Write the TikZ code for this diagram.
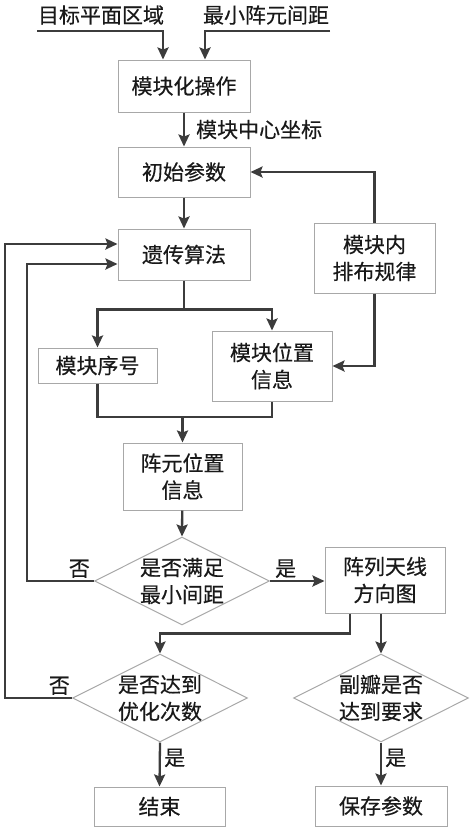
\documentclass[tikz,border=0pt]{standalone}
\usepackage{fontspec}
\setmainfont[FakeBold=0.4]{Noto Sans CJK SC}
\usetikzlibrary{shapes.geometric,arrows.meta,positioning}
\definecolor{linegray}{HTML}{3C3C3C}
\definecolor{boxgray}{HTML}{A8A8A8}

\begin{document}
\begin{tikzpicture}[x=1pt,y=-1pt,font=\fontsize{21}{27}\selectfont,text=black!90,
  blk/.style={draw=boxgray,line width=1pt,align=center,inner sep=0},
  dia/.style={shape=diamond,draw=boxgray,line width=1pt,inner sep=0,minimum width=175pt,minimum height=88pt},
  lab/.style={inner sep=0},
  ln/.style={draw=linegray,line width=2.3pt},
  arr/.style={ln,-{Stealth[length=12pt,width=11pt,inset=2pt]}}]
\useasboundingbox (0,0) rectangle (474,831);
\node[lab] (in1) at (101,15) {目标平面区域};
\node[lab] (in2) at (266,15) {最小阵元间距};
\coordinate (u1) at (37,31);
\coordinate (u2) at (330,31);
\node[blk,minimum width=132pt,minimum height=52pt] (mod) at (184,86) {模块化操作};
\node[blk,minimum width=132pt,minimum height=50pt] (init) at (184,172) {初始参数};
\node[blk,minimum width=132pt,minimum height=51pt] (ga) at (184,254.5) {遗传算法};
\node[blk,minimum width=121pt,minimum height=70pt] (rule) at (374.5,258) {模块内\\排布规律};
\node[blk,minimum width=119pt,minimum height=35pt] (idx) at (97.5,365.5) {模块序号};
\node[blk,minimum width=120pt,minimum height=70pt] (pos) at (272,366) {模块位置\\信息};
\node[blk,minimum width=119pt,minimum height=67pt] (elem) at (182.5,476.5) {阵元位置\\信息};
\node[blk,minimum width=120pt,minimum height=66pt] (pat) at (385,580) {阵列天线\\方向图};
\node[blk,minimum width=131pt,minimum height=39pt] (end) at (159.5,806.5) {结束};
\node[blk,minimum width=132pt,minimum height=40pt] (save) at (381,806) {保存参数};
\foreach \n/\x/\y/\t in {d1/182/581/{是否满足\\最小间距},d2/160/698/{是否达到\\优化次数},d3/381/698/{副瓣是否\\达到要求}}{%
  \node[dia] (\n) at (\x,\y) {};
  \node[align=center,inner sep=0] (\n t) at (\n) {\t};}
\coordinate (fb1) at (27,264);
\coordinate (fb2) at (5,244);
\coordinate (mg) at (182.5,417);
\draw[arr] (u1) -| ([xshift=-21pt]mod.north);
\draw[arr] (u2) -| ([xshift=21pt]mod.north);
\draw[arr] (mod) -- node[lab,right=11pt] {模块中心坐标} (init);
\draw[arr] (init) -- (ga);
\draw[arr] (rule.north) |- (init.east);
\draw[arr] (rule.south) |- (pos.east);
\draw[ln] (ga.south) -- ++(0,29) coordinate (sp);
\draw[arr] (sp) -| (idx.north);
\draw[arr] (sp) -| (pos.north);
\draw[ln] (idx.south) |- (pos.south |- mg) -- (pos.south);
\draw[arr] (mg) -- (elem.north);
\draw[arr] (elem) -- (d1.north);
\draw[arr] (d1.east) node[lab,above right=2pt and 4pt] {是} -- (d1.east -| pat.west);
\draw[arr] (d1.west) node[lab,above left=2pt and 3pt] {否} -| (fb1) -- (fb1 -| ga.west);
\draw[arr] ([xshift=-35pt]pat.south) -- ++(0,20) -| (d2.north);
\draw[arr] (pat.south -| d3.north) -- (d3.north);
\draw[arr] (d2.west) node[lab,above left=2pt and 1pt] {否} -| (fb2) -- (fb2 -| ga.west);
\draw[arr] (d2.south) node[lab,below right=5pt and 3pt] {是} -- (end.north);
\draw[arr] (d3.south) node[lab,below right=5pt and 3pt] {是} -- (save.north);
\end{tikzpicture}
\end{document}
